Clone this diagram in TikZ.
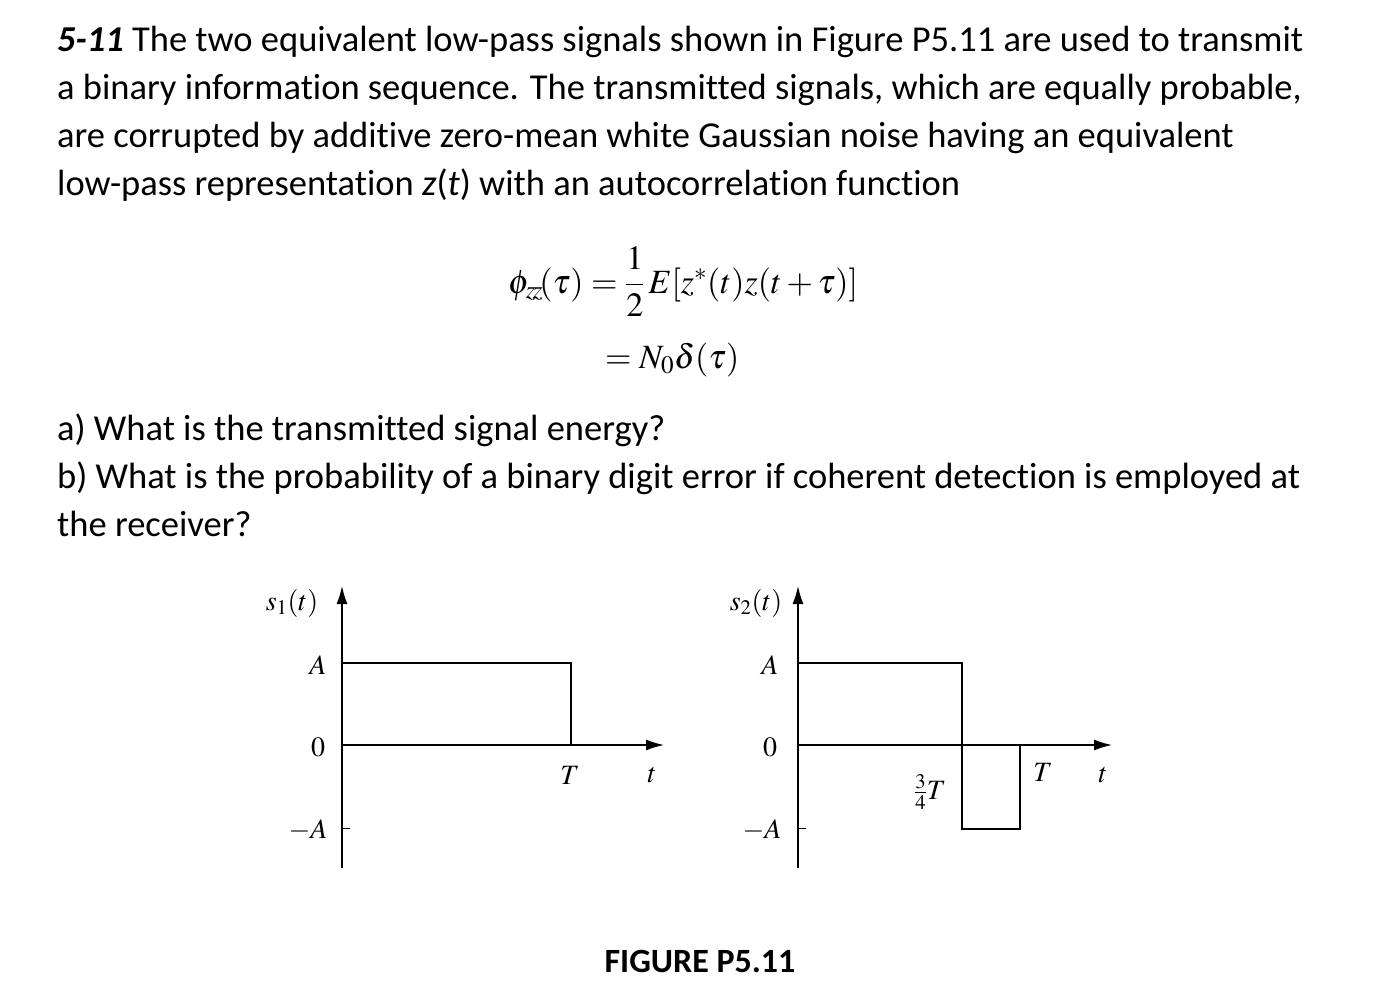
\documentclass[tikz,border=0pt]{standalone}
\usepackage{amsmath}
\usepackage{mathptmx}
\usepackage{fontspec}
\setmainfont[Ligatures={NoCommon,NoContextual}]{Carlito}
\usetikzlibrary{arrows.meta}
\begin{document}
\begin{tikzpicture}[x=1pt,y=-1pt,
  txt/.style={anchor=base west,inner sep=0,font=\fontsize{36.5}{40}\selectfont},
  lab/.style={inner sep=1,font=\fontsize{28}{28}\selectfont},
  ax/.style={line width=1.5pt,-{Latex[length=18pt,width=11pt]}},
  sig/.style={line width=2.4pt}]
\useasboundingbox (0,0) rectangle (1380,1000);
\node[txt] (l1) at (57,52) {\textbf{\textit{5-11}} The two equivalent low-pass signals shown in Figure P5.11 are used to transmit};
\node[txt] (l2) at (57,100) {a binary information sequence. The transmitted signals, which are equally probable,};
\node[txt] (l3) at (57,148) {are corrupted by additive zero-mean white Gaussian noise having an equivalent};
\node[txt] (l4) at (57,196) {low-pass representation \textit{z}(\textit{t}) with an autocorrelation function};
\node[inner sep=0,anchor=base west,font=\fontsize{34}{40}\selectfont] (e1) at (508,293)
  {$\phi_{z\!z}\!(\tau)=\dfrac{1}{2}\,E[z^{*}(t)z(t+\tau)]$};
\node[inner sep=0,anchor=base west,font=\fontsize{34}{40}\selectfont] (e2) at (605,368)
  {$=N_{0}\delta(\tau)$};
\node[txt] (qa) at (57,440) {a) What is the transmitted signal energy?};
\node[txt] (qb) at (57,488) {b) What is the probability of a binary digit error if coherent detection is employed at};
\node[txt] (qc) at (57,536) {the receiver?};
\node[txt,anchor=base,font=\fontsize{34}{40}\selectfont\bfseries] (fig) at (700,972) {FIGURE P5.11};
% left plot
\coordinate (o1) at (342,745);
\draw[ax] (342,868) -- (342,586);
\draw[ax] (o1) -- (664,745);
\draw[line width=1pt] (342,828) -- (350,828);
\draw[sig] (342,663) -- (571,663) -- (571,745);
\node[lab] (s1) at (292,603) {$s_1(t)$};
\node[lab] (A1) at (318,665) {$A$};
\node[lab] (z1) at (318,747) {$0$};
\node[lab] (m1) at (308,830) {$-A$};
\node[lab] (T1) at (570,775) {$T$};
\node[lab] (t1) at (652,775) {$t$};
% right plot
\coordinate (o2) at (798,745);
\draw[ax] (798,868) -- (798,586);
\draw[ax] (o2) -- (1112,745);
\draw[line width=1pt] (798,828) -- (806,828);
\draw[sig] (798,663) -- (962,663) -- (962,829) -- (1020,829) -- (1020,745);
\node[lab] (s2) at (756,603) {$s_2(t)$};
\node[lab] (A2) at (770,665) {$A$};
\node[lab] (z2) at (770,747) {$0$};
\node[lab] (m2) at (762,830) {$-A$};
\node[lab] (T34) at (930,792) {$\frac{3}{4}T$};
\node[lab] (T2) at (1043,772) {$T$};
\node[lab] (t2) at (1103,775) {$t$};
\end{tikzpicture}
\end{document}
